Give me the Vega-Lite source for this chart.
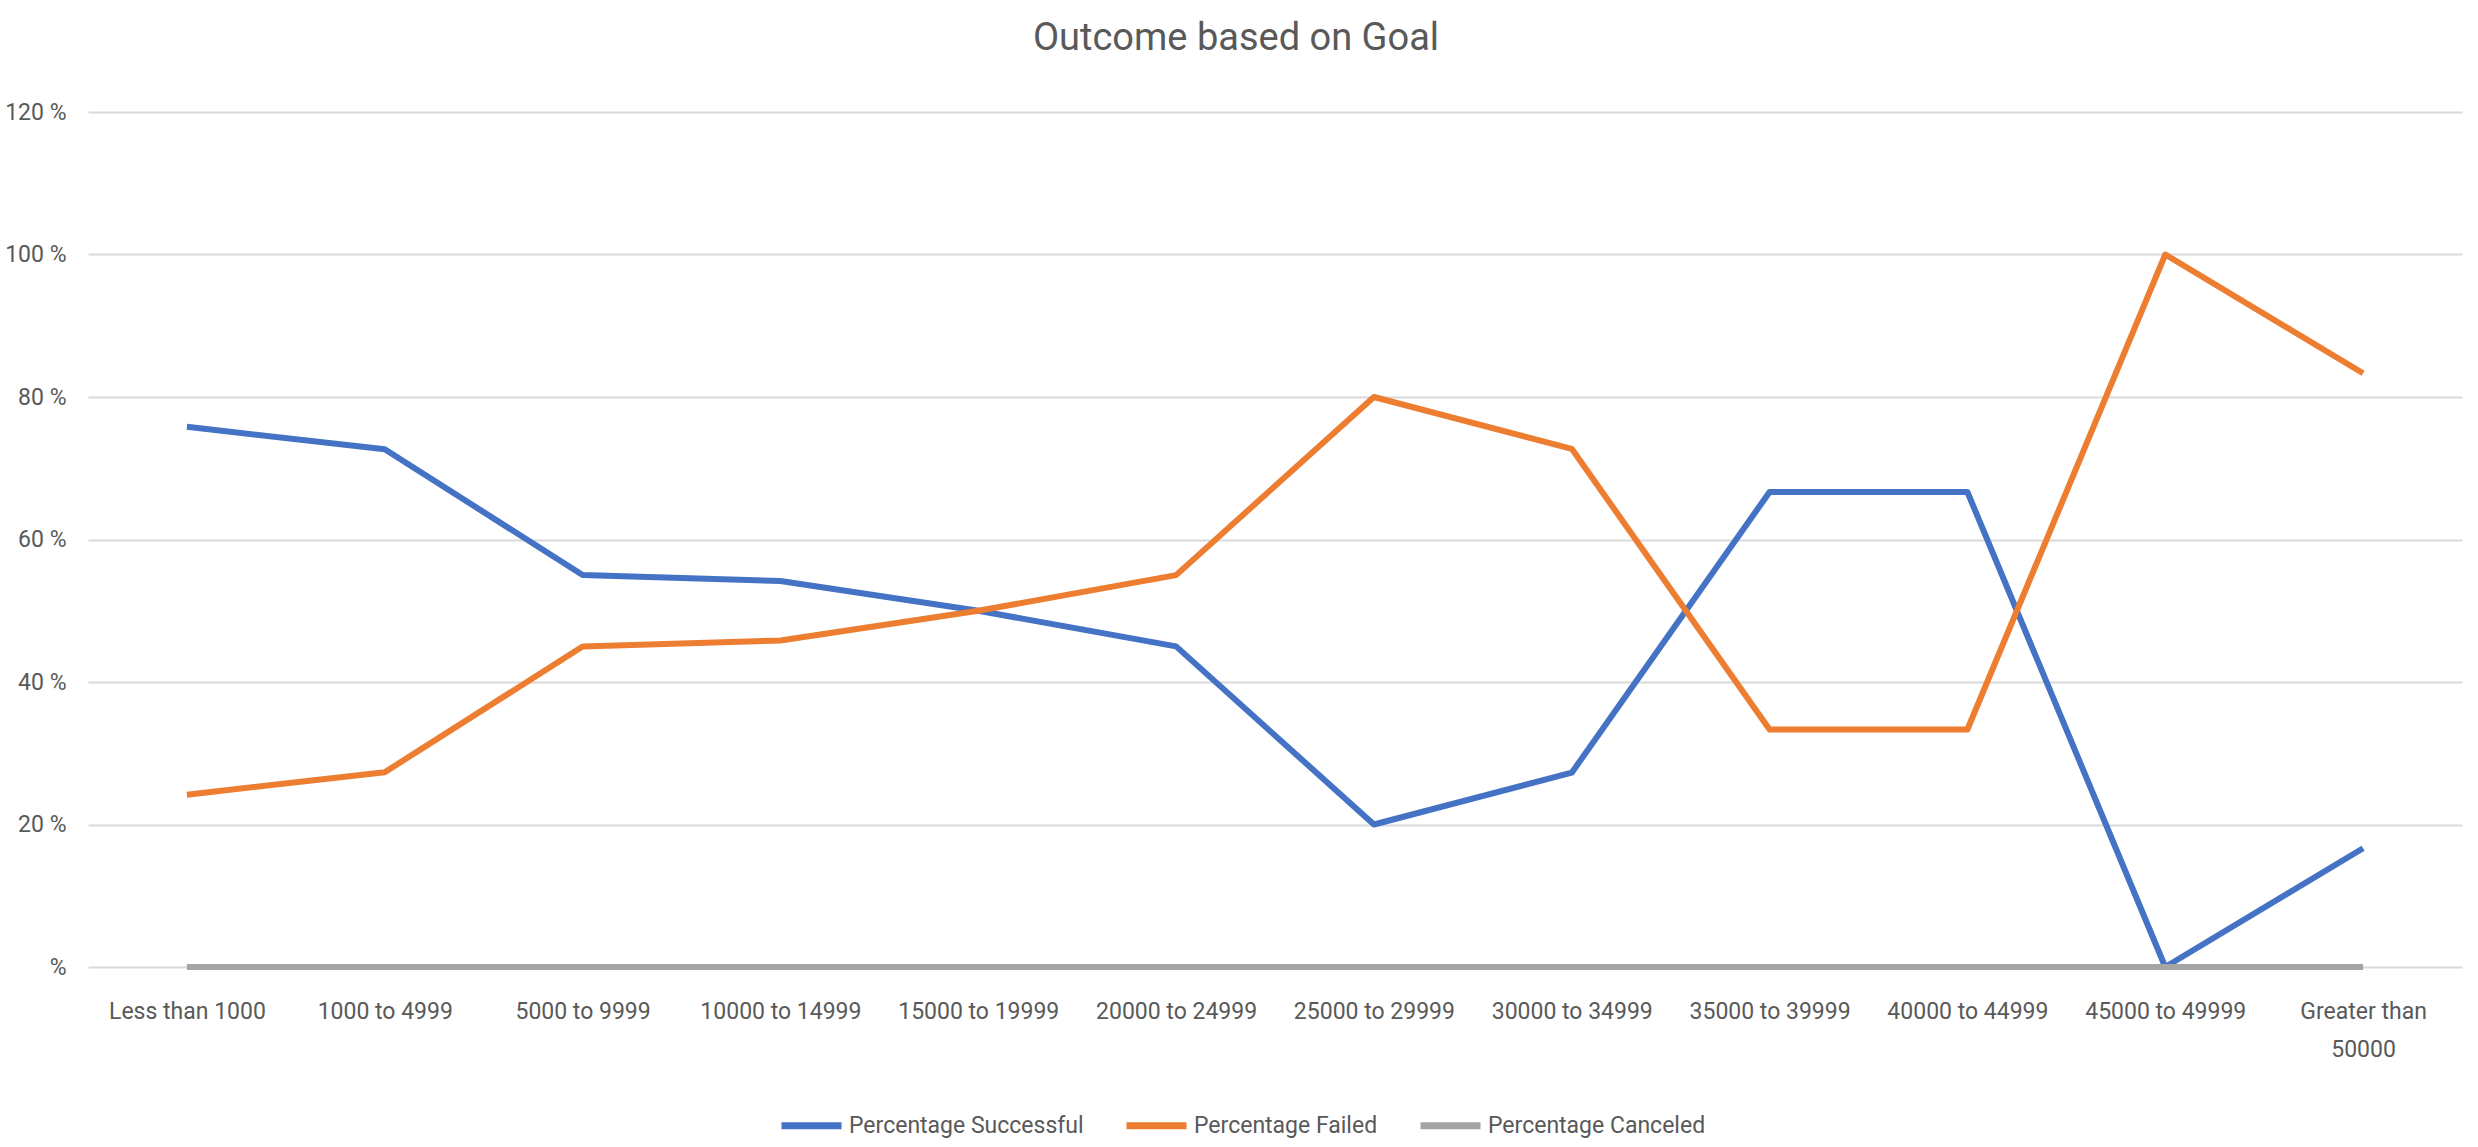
{
  "$schema": "https://vega.github.io/schema/vega-lite/v6.json",
  "autosize": {"type": "none"},
  "width": 2374,
  "height": 855,
  "padding": {"left": 88, "top": 112, "right": 16, "bottom": 180},
  "background": "white",
  "config": {
    "font": "Roboto",
    "view": {"stroke": null}
  },
  "title": {
    "text": "Outcome based on Goal",
    "font": "Roboto",
    "fontSize": 38,
    "fontWeight": "normal",
    "color": "#595959",
    "anchor": "middle",
    "dx": -39,
    "offset": 43
  },
  "data": {
    "values": [
      {"goal": "Less than 1000", "series": "Percentage Successful", "pct": 75.81},
      {"goal": "1000 to 4999", "series": "Percentage Successful", "pct": 72.66},
      {"goal": "5000 to 9999", "series": "Percentage Successful", "pct": 55.03},
      {"goal": "10000 to 14999", "series": "Percentage Successful", "pct": 54.17},
      {"goal": "15000 to 19999", "series": "Percentage Successful", "pct": 50},
      {"goal": "20000 to 24999", "series": "Percentage Successful", "pct": 45},
      {"goal": "25000 to 29999", "series": "Percentage Successful", "pct": 20},
      {"goal": "30000 to 34999", "series": "Percentage Successful", "pct": 27.27},
      {"goal": "35000 to 39999", "series": "Percentage Successful", "pct": 66.67},
      {"goal": "40000 to 44999", "series": "Percentage Successful", "pct": 66.67},
      {"goal": "45000 to 49999", "series": "Percentage Successful", "pct": 0},
      {"goal": "Greater than 50000", "series": "Percentage Successful", "pct": 16.67},
      {"goal": "Less than 1000", "series": "Percentage Failed", "pct": 24.19},
      {"goal": "1000 to 4999", "series": "Percentage Failed", "pct": 27.34},
      {"goal": "5000 to 9999", "series": "Percentage Failed", "pct": 44.97},
      {"goal": "10000 to 14999", "series": "Percentage Failed", "pct": 45.83},
      {"goal": "15000 to 19999", "series": "Percentage Failed", "pct": 50},
      {"goal": "20000 to 24999", "series": "Percentage Failed", "pct": 55},
      {"goal": "25000 to 29999", "series": "Percentage Failed", "pct": 80},
      {"goal": "30000 to 34999", "series": "Percentage Failed", "pct": 72.73},
      {"goal": "35000 to 39999", "series": "Percentage Failed", "pct": 33.33},
      {"goal": "40000 to 44999", "series": "Percentage Failed", "pct": 33.33},
      {"goal": "45000 to 49999", "series": "Percentage Failed", "pct": 100},
      {"goal": "Greater than 50000", "series": "Percentage Failed", "pct": 83.33},
      {"goal": "Less than 1000", "series": "Percentage Canceled", "pct": 0},
      {"goal": "1000 to 4999", "series": "Percentage Canceled", "pct": 0},
      {"goal": "5000 to 9999", "series": "Percentage Canceled", "pct": 0},
      {"goal": "10000 to 14999", "series": "Percentage Canceled", "pct": 0},
      {"goal": "15000 to 19999", "series": "Percentage Canceled", "pct": 0},
      {"goal": "20000 to 24999", "series": "Percentage Canceled", "pct": 0},
      {"goal": "25000 to 29999", "series": "Percentage Canceled", "pct": 0},
      {"goal": "30000 to 34999", "series": "Percentage Canceled", "pct": 0},
      {"goal": "35000 to 39999", "series": "Percentage Canceled", "pct": 0},
      {"goal": "40000 to 44999", "series": "Percentage Canceled", "pct": 0},
      {"goal": "45000 to 49999", "series": "Percentage Canceled", "pct": 0},
      {"goal": "Greater than 50000", "series": "Percentage Canceled", "pct": 0}
    ]
  },
  "mark": {"type": "line", "strokeWidth": 6, "strokeJoin": "round", "strokeCap": "butt"},
  "encoding": {
    "x": {
      "field": "goal",
      "type": "ordinal",
      "sort": null,
      "scale": {"type": "point", "padding": 0.5},
      "axis": {
        "title": null,
        "labelAngle": 0,
        "domain": false,
        "ticks": false,
        "grid": false,
        "labelFont": "Roboto",
        "labelFontSize": 23,
        "labelColor": "#595959",
        "labelPadding": 33,
        "labelBaseline": "top",
        "labelLineHeight": 38,
        "labelLimit": 400,
        "labelExpr": "datum.value == 'Greater than 50000' ? ['Greater than', '50000'] : datum.value"
      }
    },
    "y": {
      "field": "pct",
      "type": "quantitative",
      "scale": {"domain": [0, 120], "nice": false, "zero": true},
      "axis": {
        "title": null,
        "values": [0, 20, 40, 60, 80, 100, 120],
        "domain": false,
        "ticks": false,
        "grid": true,
        "gridColor": "#D9D9D9",
        "gridWidth": 2,
        "labelFont": "Roboto",
        "labelFontSize": 23,
        "labelColor": "#595959",
        "labelPadding": 22,
        "labelExpr": "datum.value == 0 ? '%' : datum.value + ' %'"
      }
    },
    "color": {
      "field": "series",
      "type": "nominal",
      "scale": {
        "domain": ["Percentage Successful", "Percentage Failed", "Percentage Canceled"],
        "range": ["#4472C4", "#ED7D31", "#A5A5A5"]
      },
      "legend": {
        "title": null,
        "orient": "none",
        "direction": "horizontal",
        "legendX": 690,
        "legendY": 980,
        "symbolType": "stroke",
        "symbolSize": 3600,
        "symbolStrokeWidth": 7,
        "labelFont": "Roboto",
        "labelFontSize": 23,
        "labelColor": "#595959",
        "labelOffset": 4,
        "columnPadding": 28,
        "labelLimit": 400
      }
    }
  }
}
